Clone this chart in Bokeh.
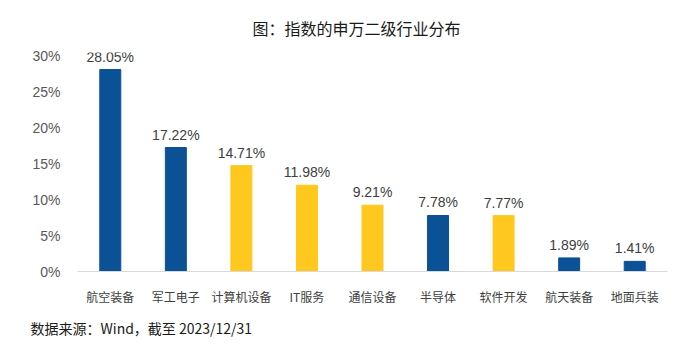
from bokeh.plotting import figure
from bokeh.models import ColumnDataSource, FactorRange, Range1d, FixedTicker, NumeralTickFormatter, Title
from bokeh.core.properties import value
from bokeh.embed import file_html
from bokeh.resources import INLINE

categories = ["航空装备", "军工电子", "计算机设备", "IT服务", "通信设备", "半导体", "软件开发", "航天装备", "地面兵装"]
weights = [28.05, 17.22, 14.71, 11.98, 9.21, 7.78, 7.77, 1.89, 1.41]
groups = ["A", "A", "B", "B", "B", "A", "B", "A", "A"]
y_ticks = [0, 5, 10, 15, 20, 25, 30]

group_colors = {"A": "#0B5195", "B": "#FFC81E"}

source = ColumnDataSource(dict(
    cat=categories,
    val=[v / 100 for v in weights],
    lbl=["%.2f%%" % v for v in weights],
    color=[group_colors[g] for g in groups],
))

p = figure(width=687, height=348, output_backend="svg", toolbar_location=None,
           x_range=FactorRange(*categories, range_padding=0),
           y_range=Range1d(0, 0.30417),
           min_border_left=77, min_border_right=20, min_border_top=52, min_border_bottom=77)
p.outline_line_color = None
p.xgrid.visible = False
p.ygrid.visible = False

p.vbar(x="cat", top="val", width=0.32, color="color", source=source)
p.text(x="cat", y="val", text="lbl", source=source, text_align="center", text_baseline="bottom",
       y_offset=-5, text_font=value("Liberation Sans"), text_font_size="14px", text_color="#404040")

p.yaxis.ticker = FixedTicker(ticks=[t / 100 for t in y_ticks])
p.yaxis.formatter = NumeralTickFormatter(format="0%")
p.yaxis.axis_line_color = None
p.yaxis.major_tick_line_color = None
p.yaxis.minor_tick_line_color = None
p.yaxis.major_label_standoff = 11
p.yaxis.major_label_text_font = "Liberation Sans"
p.yaxis.major_label_text_font_size = "14px"
p.yaxis.major_label_text_color = "#595959"

p.xaxis.axis_line_color = "#D9D9D9"
p.xaxis.axis_line_width = 1
p.xaxis.major_tick_line_color = None
p.xaxis.minor_tick_line_color = None
p.xaxis.major_label_standoff = 10
p.xaxis.major_label_text_font = "Noto Sans CJK SC"
p.xaxis.major_label_text_font_size = "12px"
p.xaxis.major_label_text_color = "#404040"

p.add_layout(Title(text="图：指数的申万二级行业分布", align="left", offset=175,
                   text_font="Noto Sans CJK SC", text_font_size="16px",
                   text_font_style="normal", text_color="#1a1a1a", standoff=26), "above")
p.add_layout(Title(text="数据来源：Wind，截至 2023/12/31", align="left", offset=-47,
                   text_font="Noto Sans CJK SC", text_font_size="14px",
                   text_font_style="normal", text_color="#1a1a1a", standoff=16), "below")

open("out.html", "w").write(file_html(p, INLINE))
